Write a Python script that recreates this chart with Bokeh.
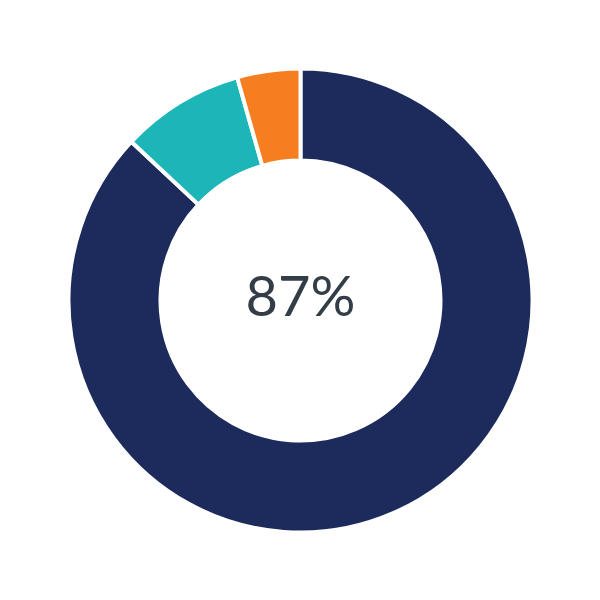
import math
from bokeh.plotting import figure
from bokeh.models import ColumnDataSource
from bokeh.core.properties import value
from bokeh.embed import file_html
from bokeh.resources import INLINE

categories = ["Navy", "Teal", "Orange"]
shares = [87.0, 8.6, 4.4]
colors = ["#1c2b5b", "#1cb5b8", "#f47e20"]
center_label = "87%"

total = sum(shares)
starts, ends = [], []
a = math.pi / 2
for s in shares:
    starts.append(a)
    a -= s / total * 2 * math.pi
    ends.append(a)

src = ColumnDataSource(dict(cat=categories, start=starts, end=ends, color=colors))

W = 584
p = figure(width=W, height=W, x_range=(-300, 284), y_range=(-284, 300),
           output_backend="svg", toolbar_location=None, min_border=0)
p.axis.visible = False
p.grid.visible = False
p.outline_line_color = None
p.background_fill_color = "white"
p.border_fill_color = "white"

p.annular_wedge(x=0, y=0, inner_radius=140, outer_radius=232,
                start_angle="end", end_angle="start", direction="anticlock",
                fill_color="color", line_color="white", line_width=4, source=src)

p.text(x=[0], y=[6], text=[center_label], text_align="center", text_baseline="middle",
       text_font=value("Lato"), text_font_size="56px", text_color="#333d47")

open("out.html", "w").write(file_html(p, INLINE))
